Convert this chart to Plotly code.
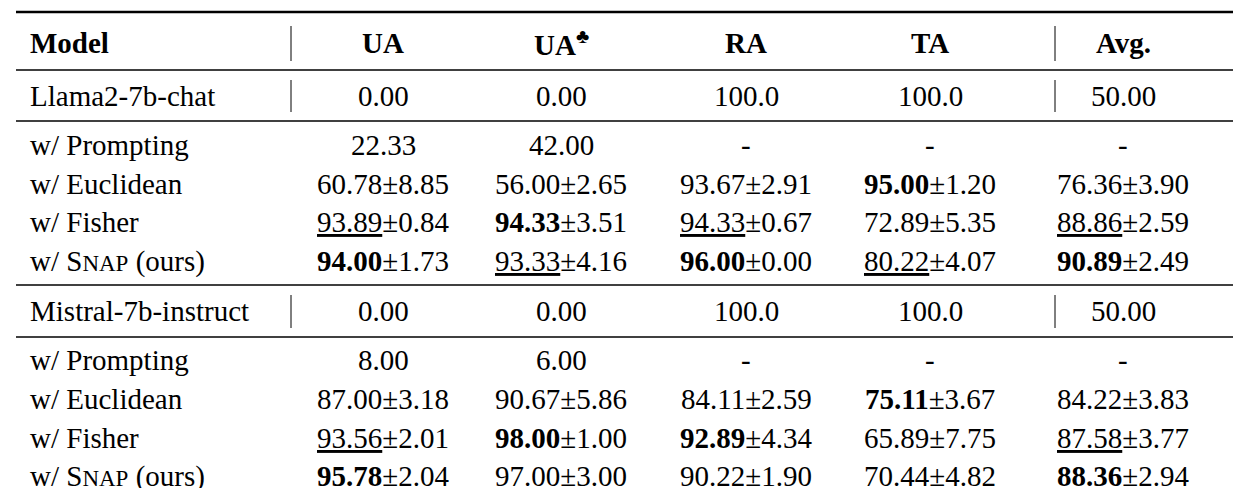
import plotly.graph_objects as go

headers = ["Model", "UA", "UA<sup>♣</sup>", "RA", "TA", "Avg."]
base_models = ["Llama2-7b-chat", "Mistral-7b-instruct"]
base_vals = [["0.00", "0.00", "100.0", "100.0", "50.00"],
             ["0.00", "0.00", "100.0", "100.0", "50.00"]]
methods = ["w/ Prompting", "w/ Euclidean", "w/ Fisher", "w/ S<span style='font-size:23px'>NAP</span> (ours)"]
# per model: rows of (mean, std, style) ; style: b=bold, u=underline, ''=plain
llama = [
    [("22.33", "", ""), ("42.00", "", ""), ("-", "", ""), ("-", "", ""), ("-", "", "")],
    [("60.78", "8.85", ""), ("56.00", "2.65", ""), ("93.67", "2.91", ""), ("95.00", "1.20", "b"), ("76.36", "3.90", "")],
    [("93.89", "0.84", "u"), ("94.33", "3.51", "b"), ("94.33", "0.67", "u"), ("72.89", "5.35", ""), ("88.86", "2.59", "u")],
    [("94.00", "1.73", "b"), ("93.33", "4.16", "u"), ("96.00", "0.00", "b"), ("80.22", "4.07", "u"), ("90.89", "2.49", "b")],
]
mistral = [
    [("8.00", "", ""), ("6.00", "", ""), ("-", "", ""), ("-", "", ""), ("-", "", "")],
    [("87.00", "3.18", ""), ("90.67", "5.86", ""), ("84.11", "2.59", ""), ("75.11", "3.67", "b"), ("84.22", "3.83", "")],
    [("93.56", "2.01", "u"), ("98.00", "1.00", "b"), ("92.89", "4.34", "b"), ("65.89", "7.75", ""), ("87.58", "3.77", "u")],
    [("95.78", "2.04", "b"), ("97.00", "3.00", "u"), ("90.22", "1.90", "u"), ("70.44", "4.82", "u"), ("88.36", "2.94", "b")],
]

col_x = [21, 375, 553, 738, 922, 1115]
FONT = "Liberation Serif, Times New Roman, serif"
FS = 29

def fmt(m, s, st):
    if st == "b":
        m = "<b>" + m + "</b>"
    elif st == "u":
        m = "<u>" + m + "</u>"
    return m + ("±" + s if s else "")

fig = go.Figure()
ann = []
def add(x, y, t, left=False):
    ann.append(dict(x=x, y=y, text=t, showarrow=False, xanchor="left" if left else "center",
                    yanchor="middle", borderpad=0,
                    font=dict(family=FONT, size=FS, color="black")))

for i, h in enumerate(headers):
    add(col_x[i], 35, "<b>" + h + "</b>", left=(i == 0))

blocks = [(88, [137, 176, 214, 253], llama), (303, [352, 391, 430, 468], mistral)]
for bi, (by, rys, data) in enumerate(blocks):
    add(col_x[0], by, base_models[bi], left=True)
    for j, v in enumerate(base_vals[bi]):
        add(col_x[j + 1], by, v)
    for r, ry in enumerate(rys):
        add(col_x[0], ry, methods[r], left=True)
        for j, (m, s, st) in enumerate(data[r]):
            add(col_x[j + 1], ry, fmt(m, s, st))

shapes = []
def hline(y, w):
    shapes.append(dict(type="line", x0=8, x1=1233, y0=y, y1=y, xref="x", yref="y",
                       line=dict(color="black", width=w)))
hline(4, 2.5); hline(62, 1.3); hline(113, 1.3); hline(277, 1.3); hline(329, 1.3); hline(485, 2.5)
for vx in [283, 1047]:
    for (a, b) in [(18, 53), (72, 104), (287, 320)]:
        shapes.append(dict(type="line", x0=vx, x1=vx, y0=a, y1=b, xref="x", yref="y",
                           line=dict(color="black", width=1)))

fig.update_layout(width=1241, height=488, margin=dict(l=0, r=0, t=0, b=0),
                  plot_bgcolor="white", paper_bgcolor="white",
                  xaxis=dict(range=[0, 1241], visible=False),
                  yaxis=dict(range=[488, 0], visible=False),
                  annotations=ann, shapes=shapes)
fig.write_html("out.html")
